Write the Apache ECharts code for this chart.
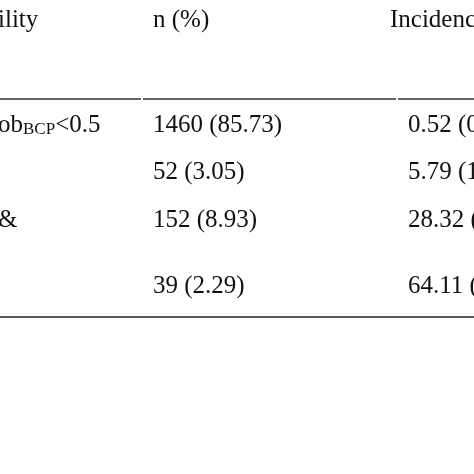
<!DOCTYPE html>
<html><head><meta charset="utf-8">
<script src="https://cdn.jsdelivr.net/npm/echarts@6/dist/echarts.min.js"></script>
<style>html,body{margin:0;padding:0;background:#fff}#c{width:474px;height:474px}</style>
</head><body><div id="c"></div>
<script>
const headers = ['ility', 'n (%)', 'Incidence'];
const col1 = ['{n|ob}{s|BCP}{n|<0.5}', '', '&', ''];
const col2 = ['1460 (85.73)', '52 (3.05)', '152 (8.93)', '39 (2.29)'];
const col3 = ['0.52 (0.', '5.79 (1.', '28.32 (', '64.11 ('];

const colX = [-2, 153, 408];
const headX = [-2, 153, 390];
const rowY = [125, 172, 220, 286];
const font = 'Liberation Serif';
const fs = 25;
const g = [];
const txt = (x, y, t) => ({type:'text', x, y, style:{text:t, fontFamily:font, fontSize:fs, fill:'#111', textVerticalAlign:'middle',
  rich:{n:{fontFamily:font,fontSize:fs,fill:'#111'}, s:{fontFamily:font,fontSize:17,fill:'#111',padding:[10,0,0,0]}}}});
headers.forEach((h,i)=>g.push(txt(headX[i], 20, h)));
[col1,col2,col3].forEach((col,ci)=>col.forEach((t,ri)=>{ if(t) g.push(txt(colX[ci], rowY[ri], t)); }));
[[0,141],[143,396],[398,474]].forEach(([a,b])=>g.push({type:'line', shape:{x1:a,y1:99,x2:b,y2:99}, style:{stroke:'#333',lineWidth:1.5}}));
g.push({type:'line', shape:{x1:0,y1:317,x2:474,y2:317}, style:{stroke:'#222',lineWidth:1.5}});
const chart = echarts.init(document.getElementById('c'));
chart.setOption({animation:false, graphic:g});
</script></body></html>
